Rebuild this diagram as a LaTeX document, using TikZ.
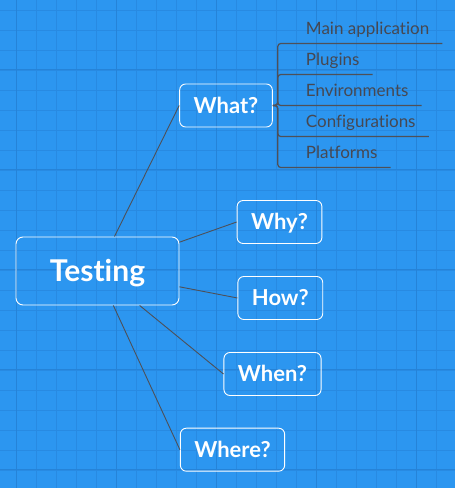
\documentclass[tikz,border=0pt]{standalone}
\usepackage{fontspec}
\setmainfont{Lato}[Ligatures=NoCommon]
\usepackage{tikz}
\usetikzlibrary{positioning,calc}
\definecolor{boardblue}{RGB}{44,150,240}
\definecolor{gridminor}{RGB}{40,138,226}
\definecolor{gridmajor}{RGB}{37,131,216}
\definecolor{spokegray}{RGB}{78,80,88}
\definecolor{leafgray}{RGB}{70,72,82}
\tikzset{
  root/.style  ={rectangle, rounded corners=7pt, draw=white, line width=0.9pt, text=white,
                 font=\bfseries\fontsize{30}{34}\selectfont, minimum width=163pt, minimum height=68pt,
                 text height=21.7pt, text depth=0pt},
  topic/.style ={rectangle, rounded corners=6pt, draw=white, line width=0.9pt, text=white,
                 font=\bfseries\fontsize{22}{26}\selectfont, inner xsep=14pt, minimum height=43pt,
                 text height=15.9pt, text depth=0pt},
  leaf/.style  ={anchor=south west, inner xsep=13pt, inner ysep=0pt, text=leafgray,
                 font=\fontsize{17}{20}\selectfont, text height=12pt, text depth=9pt},
  spoke/.style ={draw=spokegray, line width=0.9pt},
  twig/.style  ={draw=spokegray, line width=1.2pt, rounded corners=3pt},
}

\begin{document}
\begin{tikzpicture}[x=1pt, y=1pt]
\useasboundingbox (0,0) rectangle (455,488);
\fill[boardblue] (0,0) rectangle (455,488);
\draw[gridminor, line width=0.8pt, shift={(16,18)}] (-16,-18) grid[step=20pt] (439,470);
\draw[gridmajor, line width=1pt, shift={(16,18)}] (-16,-18) grid[step=100pt] (439,470);
% central topic and questions
\node[root] (testing) at (97.5,217) {Testing};
\node[topic] (what)  at (226,382.5) {What?};
\node[topic] (why)   at (279.5,266) {Why?};
\node[topic] (how)   at (280.3,190) {How?};
\node[topic] (when)  at (272.5,114) {When?};
\node[topic] (where) at (232.5,38.3) {Where?};
\foreach \q in {what,why,how,when,where} \draw[spoke] (testing) -- (\q.west);
% what? subtopics
\coordinate (fork) at ([xshift=5pt] what.east);
\foreach \name/\txt/\k in {mainapp/Main application/2, plugins/Plugins/1,
    envir/Environments/0, configs/Configurations/-1, platf/Platforms/-2} {
  \node[leaf] (\name) at ([xshift=15pt, yshift={31pt*\k}] fork) {\txt};
  \draw[twig] (what.east) -- (fork) |- (\name.south west) -- (\name.south east);
}
\end{tikzpicture}
\end{document}
